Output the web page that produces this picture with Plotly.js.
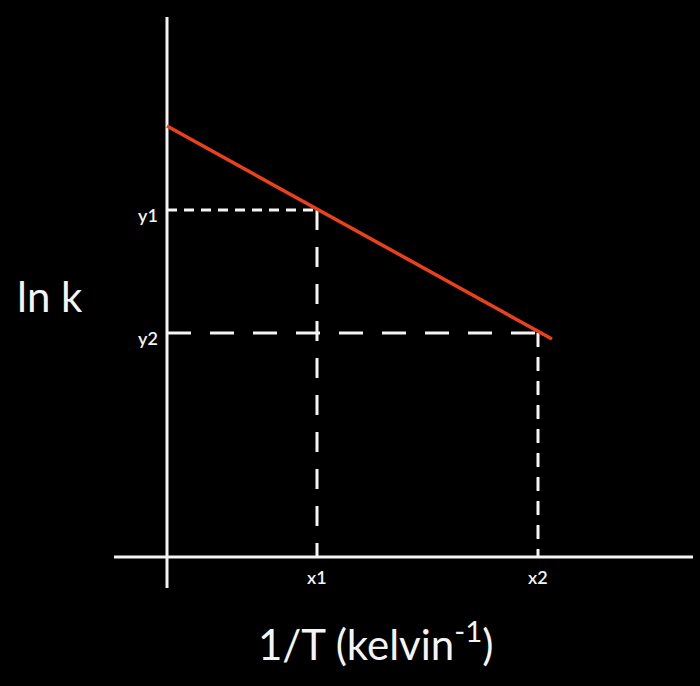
<!DOCTYPE html>
<html>
<head>
<meta charset="utf-8">
<script src="https://cdn.plot.ly/plotly-3.0.1.min.js"></script>
<style>html,body{margin:0;padding:0;background:#000;}#chart{width:700px;height:686px;}</style>
</head>
<body>
<div id="chart"></div>
<script>
// Data
var lineX = [0, 7.7];          // 1/T values of the red ln k line
var lineY = [8.62, 4.36];      // ln k values of the red line
var pointX = [3.0, 7.42];      // x1, x2
var pointY = [6.94, 4.48];     // y1, y2
var xTickText = ['x1', 'x2'];
var yTickText = ['y1', 'y2'];
var xAxisExtent = [-1.06, 10.52];
var yAxisExtent = [-0.62, 10.8];

var FONT = 'Lato, "Open Sans", sans-serif';
var WHITE = '#f4f4f4';

var traces = [
  {x: xAxisExtent, y: [0, 0], mode: 'lines', line: {color: WHITE, width: 3}, hoverinfo: 'skip'},
  {x: [0, 0], y: yAxisExtent, mode: 'lines', line: {color: WHITE, width: 3}, hoverinfo: 'skip'},
  {x: [0, pointX[0]], y: [pointY[0], pointY[0]], mode: 'lines', line: {color: WHITE, width: 3, dash: '10px,7px'}, hoverinfo: 'skip'},
  {x: [pointX[0], pointX[0]], y: [pointY[0], 0], mode: 'lines', line: {color: WHITE, width: 3, dash: '20px,17px'}, hoverinfo: 'skip'},
  {x: [0, pointX[1]], y: [pointY[1], pointY[1]], mode: 'lines', line: {color: WHITE, width: 3, dash: '24px,19px'}, hoverinfo: 'skip'},
  {x: [pointX[1], pointX[1]], y: [pointY[1], 0], mode: 'lines', line: {color: WHITE, width: 3, dash: '14px,10px'}, hoverinfo: 'skip'},
  {x: lineX, y: lineY, mode: 'lines', line: {color: '#e8411d', width: 3.5}, hoverinfo: 'skip'}
];

var annotations = [];
for (var i = 0; i < xTickText.length; i++) {
  annotations.push({x: pointX[i], y: 0, xref: 'x', yref: 'y', text: xTickText[i], showarrow: false,
    xanchor: 'center', yanchor: 'middle', yshift: -20, font: {family: FONT, size: 18, weight: 600, color: WHITE}});
}
for (var j = 0; j < yTickText.length; j++) {
  annotations.push({x: 0, y: pointY[j], xref: 'x', yref: 'y', text: yTickText[j], showarrow: false,
    xanchor: 'right', yanchor: 'middle', xshift: -7, yshift: -5, font: {family: FONT, size: 18, weight: 600, color: WHITE}});
}
annotations.push({x: -2.34, y: 5.22, xref: 'x', yref: 'y', text: 'ln k', showarrow: false,
  xanchor: 'center', yanchor: 'middle', font: {family: FONT, size: 42, color: WHITE}});
annotations.push({x: 4.17, y: -1.68, xref: 'x', yref: 'y', text: '1/T (kelvin<sup>-1</sup>)', showarrow: false,
  xanchor: 'center', yanchor: 'middle', font: {family: FONT, size: 42, color: WHITE}});

var layout = {
  width: 700, height: 686,
  margin: {l: 0, r: 0, t: 0, b: 0, pad: 0},
  paper_bgcolor: '#000', plot_bgcolor: '#000',
  showlegend: false,
  xaxis: {range: [-3.34, 10.66], visible: false, fixedrange: true},
  yaxis: {range: [-2.58, 11.14], visible: false, fixedrange: true},
  annotations: annotations
};

Plotly.newPlot('chart', traces, layout, {staticPlot: true, displayModeBar: false});
</script>
</body>
</html>
